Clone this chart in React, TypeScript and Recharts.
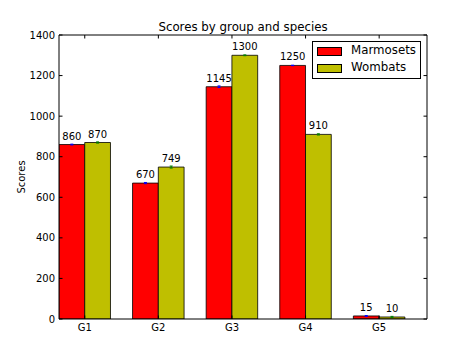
import { ComposedChart, Bar, XAxis, YAxis, LabelList, ErrorBar, Legend } from 'recharts';

const groups = ['G1', 'G2', 'G3', 'G4', 'G5'];
const marmosets = [860, 670, 1145, 1250, 15];
const wombats = [870, 749, 1300, 910, 10];
const marmosetStd = [2, 3, 4, 1, 2];
const wombatStd = [3, 5, 2, 3, 3];
const yTicks = [0, 200, 400, 600, 800, 1000, 1200, 1400];

// bar width in group units, same as the matplotlib demo (ind + width)
const barWidth = 0.35;

const data = groups.map((g, i) => ({
  group: g,
  x: i + barWidth,
  marmosets: marmosets[i],
  wombats: wombats[i],
  marmosetStd: marmosetStd[i],
  wombatStd: wombatStd[i],
}));
const xTicks = data.map((d) => d.x);

const FONT = '"DejaVu Sans", sans-serif';
const W = 474;
const H = 355;
const LEFT = 59;
const RIGHT = 47;
const plotWidth = W - LEFT - RIGHT;
const barSize = (plotWidth / groups.length) * barWidth;
const TICK = 3.5;

const BottomTick = (props: any) => {
  const { x, y, index } = props;
  return (
    <g>
      <line x1={x} x2={x} y1={y - 12} y2={y - 12 - TICK} stroke="#000" strokeWidth={1} />
      <text x={x} y={y} textAnchor="middle" fontSize={10} fontFamily={FONT} fill="#000">
        {groups[index]}
      </text>
    </g>
  );
};

const TopTick = (props: any) => {
  const { x, y } = props;
  return <line x1={x} x2={x} y1={y} y2={y + TICK} stroke="#000" strokeWidth={1} />;
};

const LeftTick = (props: any) => {
  const { x, y, payload } = props;
  return (
    <g>
      <line x1={x + 4} x2={x + 4 + TICK} y1={y} y2={y} stroke="#000" strokeWidth={1} />
      <text x={x} y={y + 3.5} textAnchor="end" fontSize={10} fontFamily={FONT} fill="#000">
        {payload.value}
      </text>
    </g>
  );
};

const RightTick = (props: any) => {
  const { x, y } = props;
  return <line x1={x} x2={x - TICK} y1={y} y2={y} stroke="#000" strokeWidth={1} />;
};

const LegendBox = (props: any) => {
  const items = props.payload || [];
  return (
    <div
      style={{
        position: 'relative',
        width: 107,
        height: 36,
        border: '1px solid #000',
        background: '#fff',
        fontFamily: FONT,
        fontSize: 11.8,
      }}
    >
      {items.map((it: any, i: number) => (
        <div key={it.value} style={{ position: 'absolute', left: 4, top: 5 + i * 17, height: 10 }}>
          <div
            style={{
              position: 'absolute',
              left: 0,
              top: 0,
              width: 23,
              height: 7,
              background: it.color,
              border: '1px solid #000',
            }}
          />
          <div style={{ position: 'absolute', left: 34, top: -4, whiteSpace: 'nowrap', lineHeight: '14px', color: '#000' }}>
            {it.value}
          </div>
        </div>
      ))}
    </div>
  );
};

const Title = (props: any) => {
  const { x, y, width, height } = props.viewBox;
  return (
    <text x={x + width / 2} y={y + height - 4} textAnchor="middle" fontSize={11.8} fontFamily={FONT} fill="#000">
      Scores by group and species
    </text>
  );
};

const YTitle = (props: any) => {
  const { y, height } = props.viewBox;
  const cx = 25;
  const cy = y + height / 2;
  return (
    <text
      x={cx}
      y={cy}
      textAnchor="middle"
      fontSize={10}
      fontFamily={FONT}
      fill="#000"
      transform={`rotate(-90, ${cx}, ${cy})`}
    >
      Scores
    </text>
  );
};

export default function App() {
  return (
    <div style={{ position: 'absolute', left: 0, top: 0, background: '#fff' }}>
      <ComposedChart
        width={W}
        height={H}
        data={data}
        margin={{ top: 0, right: 0, bottom: 0, left: 0 }}
        barGap={0}
      >
        <XAxis
          xAxisId="b"
          type="number"
          dataKey="x"
          domain={[0, groups.length]}
          ticks={xTicks}
          interval={0}
          allowDataOverflow
          height={36}
          tickSize={0}
          tickMargin={12}
          tickLine={false}
          axisLine={{ stroke: '#000', strokeWidth: 1 }}
          tick={<BottomTick />}
        />
        <XAxis
          xAxisId="t"
          orientation="top"
          type="number"
          dataKey="x"
          domain={[0, groups.length]}
          ticks={xTicks}
          interval={0}
          allowDataOverflow
          height={35}
          tickSize={0}
          tickMargin={0}
          tickLine={false}
          axisLine={{ stroke: '#000', strokeWidth: 1 }}
          tick={<TopTick />}
          label={Title}
        />
        <YAxis
          yAxisId="l"
          domain={[0, 1400]}
          ticks={yTicks}
          interval={0}
          allowDataOverflow
          width={LEFT}
          tickSize={0}
          tickMargin={4}
          tickLine={false}
          axisLine={{ stroke: '#000', strokeWidth: 1 }}
          tick={<LeftTick />}
          label={YTitle}
        />
        <YAxis
          yAxisId="r"
          orientation="right"
          domain={[0, 1400]}
          ticks={yTicks}
          interval={0}
          allowDataOverflow
          width={RIGHT}
          tickSize={0}
          tickMargin={0}
          tickLine={false}
          axisLine={{ stroke: '#000', strokeWidth: 1 }}
          tick={<RightTick />}
        />
        <Legend
          layout="horizontal"
          verticalAlign="middle"
          align="center"
          content={<LegendBox />}
          wrapperStyle={{ position: 'absolute', top: 41, left: 312, width: 109 }}
        />
        <Bar
          xAxisId="b"
          yAxisId="l"
          dataKey="marmosets"
          name="Marmosets"
          fill="#ff0000"
          stroke="#000"
          strokeWidth={0.8}
          barSize={barSize}
          isAnimationActive={false}
        >
          <ErrorBar dataKey="marmosetStd" width={1.5} stroke="#0000ff" strokeWidth={1} direction="y" />
          <LabelList dataKey="marmosets" position="top" offset={5} fontSize={10} fontFamily={FONT} fill="#000" />
        </Bar>
        <Bar
          xAxisId="b"
          yAxisId="l"
          dataKey="wombats"
          name="Wombats"
          fill="#bfbf00"
          stroke="#000"
          strokeWidth={0.8}
          barSize={barSize}
          isAnimationActive={false}
        >
          <ErrorBar dataKey="wombatStd" width={1.5} stroke="#008000" strokeWidth={1} direction="y" />
          <LabelList dataKey="wombats" position="top" offset={5} fontSize={10} fontFamily={FONT} fill="#000" />
        </Bar>
      </ComposedChart>
    </div>
  );
}
